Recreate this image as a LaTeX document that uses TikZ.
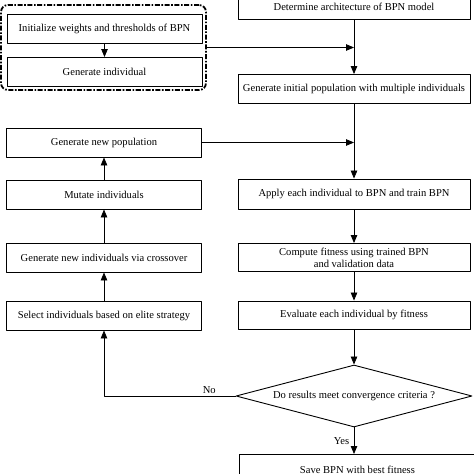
\documentclass[tikz,border=0pt]{standalone}
\usepackage{fontspec}
\setmainfont{Liberation Serif}
\usetikzlibrary{arrows.meta,shapes.geometric}
\tikzset{
	boxL/.style={draw, line width=0.9bp, minimum width=195bp, minimum height=29bp, inner sep=1bp, align=center},
	boxR/.style={draw, line width=0.9bp, minimum width=232bp, minimum height=29bp, inner sep=1bp, align=center},
	decbox/.style={draw, line width=0.9bp, diamond, aspect=3.8, inner sep=0pt, minimum width=236bp, minimum height=62bp},
	grpbox/.style={draw, rounded corners=7bp, line width=1.8bp, dash pattern=on 5bp off 1.6bp on 1.6bp off 1.6bp, minimum width=205bp, minimum height=85bp}
}
\begin{document}
\begin{tikzpicture}[x=1bp, y=-1bp, font=\fontsize{10.6}{12}\selectfont, line join=round, >={Triangle[length=8bp,width=6.5bp]}]
	\useasboundingbox (0,0) rectangle (474,474);
	\clip (0,0) rectangle (474,474);
	% left block
	\node[grpbox] (grp) at (103.5,47.5) {};
	\node[boxL] (init) at (104.5,29) {Initialize weights and thresholds of BPN};
	\node[boxL] (genind) at (104.5,72) {Generate individual};
	\node[boxL] (newpop) at (104,142.5) {Generate new population};
	\node[boxL] (mutate) at (104,194.5) {Mutate individuals};
	\node[boxL] (cross) at (104,257.5) {Generate new individuals via crossover};
	\node[boxL] (select) at (104,315.5) {Select individuals based on elite strategy};
	% right block
	\node[boxR, minimum height=26bp] (arch) at (354,6.5) {Determine architecture of BPN model};
	\node[boxR] (initpop) at (354,89) {Generate initial population with multiple individuals};
	\node[boxR, minimum height=30bp] (apply) at (354,194) {Apply each individual to BPN and train BPN};
	\node[boxR, minimum height=28bp, inner sep=0pt] (comp) at (354,257.5) {Compute fitness using trained BPN\\and validation data};
	\node[boxR, minimum height=28bp] (eval) at (354,315) {Evaluate each individual by fitness};
	\node[decbox] (dec) at (354,396) {Do results meet convergence criteria ?};
	\node[boxR, minimum width=236bp, minimum height=44bp, anchor=north west] (save) at (239,454) {\raisebox{14bp}{Save BPN with best fitness}};
	% join points
	\coordinate (m1) at (arch.south |- grp.east);
	\coordinate (m2) at (initpop.south |- newpop.east);
	% connectors
	\draw[line width=0.8bp, ->] (init) -- (genind);
	\draw[line width=0.8bp, ->] (arch) -- (initpop);
	\draw[line width=0.8bp, ->] (grp.east) -- (m1);
	\draw[line width=0.8bp, ->] (initpop) -- (apply);
	\draw[line width=0.8bp, ->] (newpop.east) -- (m2);
	\foreach \a/\b in {apply/comp, comp/eval}
		\draw[line width=0.8bp, ->] (\a.south) -- (\b.north);
	\draw[line width=0.8bp, ->] (eval.south) -- (dec.north);
	\foreach \a/\b in {select/cross, cross/mutate, mutate/newpop}
		\draw[line width=0.8bp, ->] (\a.north) -- (\b.south);
	\draw[line width=0.8bp, ->] (dec.west) -- node[pos=0.2, above=-1bp]{No} (select.south |- dec.west) -- (select.south);
	\draw[line width=0.8bp, ->] (dec.south) -- node[midway, left=1bp]{Yes} (save.north -| dec.south);
\end{tikzpicture}
\end{document}
